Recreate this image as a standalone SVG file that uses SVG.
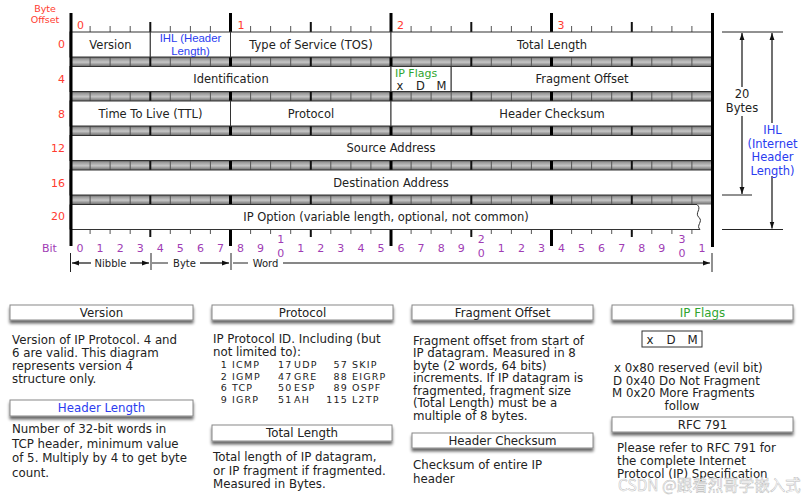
<svg xmlns="http://www.w3.org/2000/svg" width="810" height="497" viewBox="0 0 810 497">
<defs>
<style>
text{font-family:"DejaVu Sans","Liberation Sans",Arial,sans-serif;fill:#222}
.f{font-size:11.5px;text-anchor:middle}
.fa{font-family:"Liberation Sans",Arial,sans-serif;font-size:11.4px;text-anchor:middle}
.l{font-size:11.8px}
.h{font-size:11.8px;text-anchor:middle}
.tb{font-size:9.5px;letter-spacing:1.2px}
.tbe{font-size:9.5px;letter-spacing:1.2px;text-anchor:end}
.red{fill:#ff3b30}
.blue{fill:#2a3cf0}
.grn{fill:#2fa52f}
.pur{fill:#a03cb4;font-size:11px;text-anchor:middle}
.off{fill:#ff3b30;font-size:11px;text-anchor:end}
.row{fill:#fff;stroke:#333;stroke-width:1}
.bar{fill:url(#gb)}
.hd{fill:#fff;stroke:#888;stroke-width:1;filter:url(#sh)}
.ln{stroke:#222;stroke-width:1;fill:none}
.ar{stroke:#111;stroke-width:1.2;fill:none;marker-end:url(#ah)}
.wm{font-family:"Noto Sans CJK SC","Noto Sans",sans-serif;font-size:15.5px;fill:#fff;stroke:#bdbdbd;stroke-width:0.5}
</style>
<linearGradient id="gb" x1="0" y1="0" x2="0" y2="1">
<stop offset="0" stop-color="#555"/><stop offset="0.2" stop-color="#9a9a9a"/><stop offset="0.55" stop-color="#c6c6c6"/><stop offset="1" stop-color="#6a6a6a"/>
</linearGradient>
<filter id="sh" x="-5%" y="-30%" width="110%" height="200%">
<feGaussianBlur in="SourceAlpha" stdDeviation="1.6"/><feOffset dy="2.5"/>
<feComponentTransfer><feFuncA type="linear" slope="0.6"/></feComponentTransfer>
<feMerge><feMergeNode/><feMergeNode in="SourceGraphic"/></feMerge>
</filter>
<marker id="ah" viewBox="0 0 10 10" refX="10" refY="5" markerWidth="7" markerHeight="7" markerUnits="userSpaceOnUse" orient="auto">
<path d="M0,1.5 L10,5 L0,8.5 z" fill="#111"/>
</marker>
</defs>
<rect x="0" y="0" width="810" height="497" fill="#fff"/>

<g id="ruler">
<rect class="bar" x="70" y="57" width="642" height="9.5"/>
<rect class="bar" x="70" y="91.5" width="642" height="9.5"/>
<rect class="bar" x="70" y="126" width="642" height="9.5"/>
<rect class="bar" x="70" y="160.5" width="642" height="9.5"/>
<rect class="bar" x="70" y="195" width="642" height="9.5"/>
<path stroke="#555" stroke-width="1" d="M90.1 26V234M110.1 26V234M130.2 26V234M170.3 26V234M190.4 26V234M210.4 26V234M250.6 26V234M270.6 26V234M290.7 26V234M330.8 26V234M350.9 26V234M370.9 26V234M411.1 26V234M431.1 26V234M451.2 26V234M491.3 26V234M511.4 26V234M531.4 26V234M571.6 26V234M591.6 26V234M611.7 26V234M651.8 26V234M671.9 26V234M691.9 26V234"/>
<path stroke="#111" stroke-width="2" d="M150.3 22V237M310.8 22V237M471.3 22V237M631.8 22V237"/>
<path stroke="#000" stroke-width="3" d="M230.5 13V246M391 13V246M551.5 13V246"/>
<text class="red" font-size="11" x="77" y="29">0</text>
<text class="red" font-size="11" x="237.5" y="29">1</text>
<text class="red" font-size="11" x="397" y="29">2</text>
<text class="red" font-size="11" x="557.5" y="29">3</text>
<text class="red" font-size="9.5" x="45" y="12" text-anchor="middle">Byte</text>
<text class="red" font-size="9.5" x="45" y="23" text-anchor="middle">Offset</text>
<text class="off" x="65" y="48">0</text>
<text class="off" x="65" y="83">4</text>
<text class="off" x="65" y="117.5">8</text>
<text class="off" x="65" y="152">12</text>
<text class="off" x="65" y="186.5">16</text>
<text class="off" x="65" y="220">20</text>
<text style="fill:#a03cb4" font-size="11" x="42" y="252">Bit</text>
<text class="pur" y="252" x="80 100.1 120.2 140.2 160.3 180.3 200.4 220.5 240.5 260.6">0123456789</text>
<text class="pur" y="252" x="300.7 320.8 340.8 360.9 380.9 401 421.1 441.2 461.2">123456789</text>
<text class="pur" y="252" x="501.3 521.4 541.5 561.5 581.6 601.6 621.7 641.8 661.8">123456789</text>
<text class="pur" y="252" x="701.9">1</text>
<text class="pur" y="243" x="280.7">1</text><text class="pur" y="256.5" x="280.7">0</text>
<text class="pur" y="243" x="481.3">2</text><text class="pur" y="256.5" x="481.3">0</text>
<text class="pur" y="243" x="681.9">3</text><text class="pur" y="256.5" x="681.9">0</text>
</g>

<g id="version"><rect class="row" x="70" y="32" width="80.3" height="25"/><text class="f" x="110.5" y="48.5">Version</text></g>
<g id="ihl"><rect class="row" x="150.3" y="32" width="80.2" height="25"/><text class="fa blue" x="190.5" y="41.5">IHL (Header</text><text class="fa blue" x="190.5" y="54.5">Length)</text></g>
<g id="tos"><rect class="row" x="230.5" y="32" width="160.5" height="25"/><text class="f" x="311" y="48.5">Type of Service (TOS)</text></g>
<g id="total-length"><rect class="row" x="391" y="32" width="321" height="25"/><text class="f" x="552" y="48.5">Total Length</text></g>

<g id="identification"><rect class="row" x="70" y="66.5" width="321" height="25"/><text class="f" x="231" y="83">Identification</text></g>
<g id="ip-flags"><rect class="row" x="391" y="66.5" width="60.2" height="25"/><text class="grn" font-size="11" x="395" y="77">IP Flags</text><text class="f" font-size="11" x="400" y="89.5">x</text><text class="f" font-size="11" x="420.5" y="89.5">D</text><text class="f" font-size="11" x="441.5" y="89.5">M</text></g>
<g id="fragment-offset"><rect class="row" x="451.2" y="66.5" width="260.8" height="25"/><text class="f" x="582" y="83">Fragment Offset</text></g>

<g id="ttl"><rect class="row" x="70" y="101" width="160.5" height="25"/><text class="f" x="150.5" y="117.5">Time To Live (TTL)</text></g>
<g id="protocol"><rect class="row" x="230.5" y="101" width="160.5" height="25"/><text class="f" x="311" y="117.5">Protocol</text></g>
<g id="header-checksum"><rect class="row" x="391" y="101" width="321" height="25"/><text class="f" x="552" y="117.5">Header Checksum</text></g>

<g id="source-address"><rect class="row" x="70" y="135.5" width="642" height="25"/><text class="f" x="391" y="152">Source Address</text></g>
<g id="destination-address"><rect class="row" x="70" y="170" width="642" height="25"/><text class="f" x="391" y="186.5">Destination Address</text></g>
<g id="ip-option"><path class="row" d="M70 204.5H697C702.5 209 694 213 699 217.5C703.5 221.5 695.5 225.5 700 229.5H70Z"/><text class="f" x="386" y="221">IP Option (variable length, optional, not common)</text></g>

<g id="frame">
<path stroke="#000" stroke-width="3" d="M71 13V246M712.5 13V247"/>
</g>

<g id="connectors">
<path class="ln" d="M722 32H783M722 195H752M722 229.5H783"/>
<path class="ar" d="M742 87V33"/>
<path class="ar" d="M742 116V194"/>
<path class="ar" d="M772 123V33"/>
<path class="ar" d="M772 176V228.5"/>
<path class="ln" d="M70.5 253V272M151 253V270M231 253V270M712 253V272"/>
<path class="ar" d="M91 263H72"/>
<path class="ar" d="M130 263H149"/>
<path class="ln" d="M152 263H168"/>
<path class="ar" d="M200 263H229"/>
<path class="ln" d="M233 263H248"/>
<path class="ar" d="M283 263H710"/>
<text font-size="10" x="110.5" y="267" text-anchor="middle">Nibble</text>
<text font-size="10" x="184.5" y="267" text-anchor="middle">Byte</text>
<text font-size="10" x="265.5" y="267" text-anchor="middle">Word</text>
<text class="f" x="742" y="98">20</text>
<text class="f" x="742" y="111.5">Bytes</text>
<text class="f blue" x="772.5" y="134">IHL</text>
<text class="f blue" x="772.5" y="147.5">(Internet</text>
<text class="f blue" x="772.5" y="161">Header</text>
<text class="f blue" x="772.5" y="174.5">Length)</text>
</g>

<g id="legend-version">
<rect class="hd" x="10" y="305" width="183" height="15"/>
<text class="h" x="101.5" y="316.5">Version</text>
<text class="l" x="12" y="344">Version of IP Protocol.  4 and</text>
<text class="l" x="12" y="357">6 are valid.  This diagram</text>
<text class="l" x="12" y="370">represents version 4</text>
<text class="l" x="12" y="383">structure only.</text>
</g>
<g id="legend-header-length">
<rect class="hd" x="10" y="400" width="183" height="16"/>
<text class="h blue" x="101.5" y="412">Header Length</text>
<text class="l" x="12" y="433">Number of 32-bit words in</text>
<text class="l" x="12" y="447.5">TCP header, minimum value</text>
<text class="l" x="12" y="462">of 5.  Multiply by 4 to get byte</text>
<text class="l" x="12" y="476.5">count.</text>
</g>
<g id="legend-protocol">
<rect class="hd" x="212" y="305" width="181" height="15"/>
<text class="h" x="302.5" y="316.5">Protocol</text>
<text class="l" x="213" y="343">IP Protocol ID.  Including (but</text>
<text class="l" x="213" y="356">not limited to):</text>
<text class="tbe" x="228" y="368">1</text><text class="tb" x="232" y="368">ICMP</text>
<text class="tbe" x="228" y="379.5">2</text><text class="tb" x="232" y="379.5">IGMP</text>
<text class="tbe" x="228" y="391">6</text><text class="tb" x="232" y="391">TCP</text>
<text class="tbe" x="228" y="402.5">9</text><text class="tb" x="232" y="402.5">IGRP</text>
<text class="tb" x="278" y="368">17</text><text class="tb" x="294" y="368">UDP</text>
<text class="tb" x="278" y="379.5">47</text><text class="tb" x="294" y="379.5">GRE</text>
<text class="tb" x="278" y="391">50</text><text class="tb" x="294" y="391">ESP</text>
<text class="tb" x="278" y="402.5">51</text><text class="tb" x="294" y="402.5">AH</text>
<text class="tbe" x="348" y="368">57</text><text class="tb" x="352" y="368">SKIP</text>
<text class="tbe" x="348" y="379.5">88</text><text class="tb" x="352" y="379.5">EIGRP</text>
<text class="tbe" x="348" y="391">89</text><text class="tb" x="352" y="391">OSPF</text>
<text class="tbe" x="348" y="402.5">115</text><text class="tb" x="352" y="402.5">L2TP</text>
</g>
<g id="legend-total-length">
<rect class="hd" x="212" y="425" width="180" height="16"/>
<text class="h" x="302" y="437">Total Length</text>
<text class="l" x="213" y="461">Total length of IP datagram,</text>
<text class="l" x="213" y="474.5">or IP fragment if fragmented.</text>
<text class="l" x="213" y="488">Measured in Bytes.</text>
</g>
<g id="legend-fragment-offset">
<rect class="hd" x="412" y="305" width="181" height="15"/>
<text class="h" x="502.5" y="316.5">Fragment Offset</text>
<text class="l" x="413" y="344.5">Fragment offset from start of</text>
<text class="l" x="413" y="357">IP datagram.  Measured in 8</text>
<text class="l" x="413" y="369.5">byte (2 words, 64 bits)</text>
<text class="l" x="413" y="382">increments.  If IP datagram is</text>
<text class="l" x="413" y="394.5">fragmented, fragment size</text>
<text class="l" x="413" y="407">(Total Length) must be a</text>
<text class="l" x="413" y="419.5">multiple of 8 bytes.</text>
</g>
<g id="legend-header-checksum">
<rect class="hd" x="412" y="433" width="181" height="15"/>
<text class="h" x="502.5" y="444.5">Header Checksum</text>
<text class="l" x="413" y="469">Checksum of entire IP</text>
<text class="l" x="413" y="482.5">header</text>
</g>
<g id="legend-ip-flags">
<rect class="hd" x="612" y="305" width="181" height="15"/>
<text class="h grn" x="702.5" y="316.5">IP Flags</text>
<rect x="642" y="331" width="60" height="16" fill="#fff" stroke="#333" stroke-width="1"/>
<text class="h" x="650" y="343.5">x</text><text class="h" x="671" y="343.5">D</text><text class="h" x="692.5" y="343.5">M</text>
<text class="l" x="614" y="372">x  0x80 reserved (evil bit)</text>
<text class="l" x="613" y="384.5">D 0x40 Do Not Fragment</text>
<text class="l" x="612" y="397">M 0x20 More Fragments</text>
<text class="h" x="682" y="409.5">follow</text>
</g>
<g id="legend-rfc">
<rect class="hd" x="612" y="417" width="181" height="15"/>
<text class="h" x="702.5" y="428.5">RFC 791</text>
<text class="l" x="617" y="452">Please refer to RFC 791 for</text>
<text class="l" x="617" y="465">the complete Internet</text>
<text class="l" x="617" y="478">Protocol (IP) Specification</text>
</g>
<text class="wm" x="618" y="491">CSDN @跟着烈哥学嵌入式</text>
</svg>
